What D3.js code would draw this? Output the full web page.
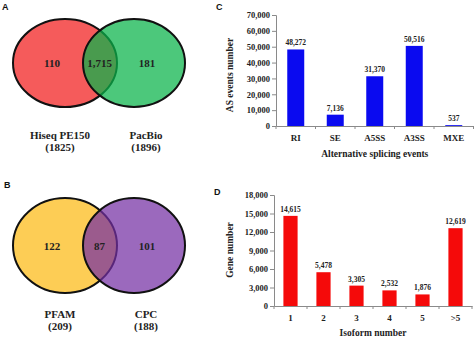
<!DOCTYPE html>
<html>
<head>
<meta charset="utf-8">
<script src="https://cdn.jsdelivr.net/npm/d3@7"></script>
<style>
  html, body { margin: 0; padding: 0; background: #fff; }
  svg { display: block; }
</style>
</head>
<body>
<svg id="fig" width="474" height="340"></svg>
<script>
// ---- Venn data ----
const vennA_sets = ["Hiseq PE150", "PacBio"];
const vennA_totals = [1825, 1896];
const vennA_counts = [110, 1715, 181]; // left only, shared, right only

const vennB_sets = ["PFAM", "CPC"];
const vennB_totals = [209, 188];
const vennB_counts = [122, 87, 101];

// ---- Bar data ----
const asEvents = ["RI", "SE", "A5SS", "A3SS", "MXE"];
const asCounts = [48272, 7136, 31370, 50516, 537];
const asTicks = [0, 10000, 20000, 30000, 40000, 50000, 60000, 70000];

const isoforms = ["1", "2", "3", "4", "5", ">5"];
const geneCounts = [14615, 5478, 3305, 2532, 1876, 12619];
const geneTicks = [0, 3000, 6000, 9000, 12000, 15000, 18000];

const svg = d3.select("#fig");
const serif = "'Liberation Serif', 'Times New Roman', serif";
const sans = "'Liberation Sans', Arial, sans-serif";
const fmt = d3.format(",");

// panel letters
[["A", 2, 10], ["B", 4, 188], ["C", 216, 10], ["D", 214, 195]].forEach(([t, x, y]) => {
  svg.append("text").attr("x", x).attr("y", y).text(t)
    .attr("font-family", sans).attr("font-weight", "bold").attr("font-size", 9).attr("fill", "#111");
});

// ---- Venn diagrams ----
// The right set is a translucent layer over the left one, so the shared
// area and the covered arc take on a blended tint.
function venn(cfg) {
  const g = svg.append("g");
  g.append("ellipse").attr("cx", cfg.cx[0]).attr("cy", cfg.cy).attr("rx", cfg.rx[0]).attr("ry", cfg.ry)
    .attr("fill", cfg.leftColor).attr("stroke", "#111").attr("stroke-width", 2);
  g.append("ellipse").attr("cx", cfg.cx[1]).attr("cy", cfg.cy).attr("rx", cfg.rx[1]).attr("ry", cfg.ry)
    .attr("fill", cfg.rightColor).attr("fill-opacity", cfg.rightOpacity)
    .attr("stroke", "#111").attr("stroke-width", 2);

  const xs = [cfg.cx[0] - 13, (cfg.cx[0] + cfg.cx[1]) / 2, cfg.cx[1] + 13];
  cfg.counts.forEach((c, i) => {
    g.append("text").attr("x", xs[i]).attr("y", cfg.cy + 4).attr("text-anchor", "middle")
      .attr("font-family", serif).attr("font-weight", "bold").attr("font-size", 11).attr("fill", "#222")
      .text(fmt(c));
  });
  cfg.sets.forEach((s, i) => {
    const x = [60, 146][i];
    g.append("text").attr("x", x).attr("y", cfg.labelY).attr("text-anchor", "middle")
      .attr("font-family", serif).attr("font-weight", "bold").attr("font-size", 11).attr("fill", "#222").text(s);
    g.append("text").attr("x", x).attr("y", cfg.labelY + 12).attr("text-anchor", "middle")
      .attr("font-family", serif).attr("font-weight", "bold").attr("font-size", 11).attr("fill", "#222")
      .text("(" + cfg.totals[i] + ")");
  });
}

venn({
  cx: [65, 134], rx: [52, 51], cy: 63, ry: 44,
  leftColor: "#f55b5b", rightColor: "rgb(10,180,74)", rightOpacity: 0.73,
  counts: vennA_counts, sets: vennA_sets, totals: vennA_totals, labelY: 139
});
venn({
  cx: [65, 134], rx: [52, 51], cy: 245.5, ry: 47.5,
  leftColor: "#fdcd55", rightColor: "rgb(117,47,164)", rightOpacity: 0.72,
  counts: vennB_counts, sets: vennB_sets, totals: vennB_totals, labelY: 318
});

// ---- Bar charts ----
function barChart(cfg) {
  const g = svg.append("g");
  const x = d3.scaleBand().domain(cfg.cats).range([cfg.x0, cfg.x1]).paddingInner(0.57).paddingOuter(0.285);
  const y = d3.scaleLinear().domain([0, cfg.ticks[cfg.ticks.length - 1]]).range([cfg.y0, cfg.y1]);
  const axisColor = "#8a8a8a";

  // y axis
  const ya = g.append("g").attr("transform", `translate(${cfg.x0},0)`)
    .call(d3.axisLeft(y).tickValues(cfg.ticks).tickFormat(fmt).tickSize(4).tickPadding(2));
  ya.select(".domain").attr("stroke", axisColor);
  ya.selectAll(".tick line").attr("stroke", axisColor);
  ya.selectAll(".tick text").attr("font-family", serif).attr("font-weight", "bold")
    .attr("font-size", 8.5).attr("fill", "#222");

  // bars
  g.selectAll("rect.bar").data(cfg.vals).join("rect").attr("class", "bar")
    .attr("x", (d, i) => x(cfg.cats[i]))
    .attr("width", x.bandwidth())
    .attr("y", d => y(d))
    .attr("height", d => y(0) - y(d))
    .attr("fill", cfg.color);

  // value labels
  g.selectAll("text.val").data(cfg.vals).join("text").attr("class", "val")
    .attr("x", (d, i) => x(cfg.cats[i]) + x.bandwidth() / 2)
    .attr("y", d => y(d) - 4)
    .attr("text-anchor", "middle")
    .attr("font-family", serif).attr("font-weight", "bold").attr("font-size", 7.5).attr("fill", "#222")
    .text(d => fmt(d));

  // x axis with ticks on category boundaries
  const xa = g.append("g").attr("transform", `translate(0,${cfg.y0})`)
    .call(d3.axisBottom(x).tickSize(0).tickPadding(9));
  xa.select(".domain").attr("stroke", axisColor);
  xa.selectAll(".tick text").attr("font-family", serif).attr("font-weight", "bold")
    .attr("font-size", 9).attr("fill", "#222");
  const step = x.step();
  const bounds = d3.range(cfg.cats.length + 1).map(i => cfg.x0 + i * step);
  g.selectAll("line.bnd").data(bounds).join("line").attr("class", "bnd")
    .attr("x1", d => d).attr("x2", d => d)
    .attr("y1", cfg.y0).attr("y2", cfg.y0 + 3)
    .attr("stroke", axisColor);

  // titles
  g.append("text").attr("x", (cfg.x0 + cfg.x1) / 2).attr("y", cfg.y0 + cfg.titleDy)
    .attr("text-anchor", "middle").attr("font-family", serif).attr("font-weight", "bold")
    .attr("font-size", 9.5).attr("fill", "#222").text(cfg.xTitle);
  g.append("text").attr("transform", `translate(233,${cfg.yTitleY}) rotate(-90)`)
    .attr("text-anchor", "middle").attr("font-family", serif).attr("font-weight", "bold")
    .attr("font-size", 9.5).attr("fill", "#222").text(cfg.yTitle);
}

barChart({
  cats: asEvents, vals: asCounts, ticks: asTicks,
  x0: 276, x1: 473.5, y0: 126, y1: 15, color: "#0a0af0",
  xTitle: "Alternative splicing events", yTitle: "AS events number",
  titleDy: 31, yTitleY: 75
});
barChart({
  cats: isoforms, vals: geneCounts, ticks: geneTicks,
  x0: 274, x1: 472, y0: 306, y1: 195, color: "#f50a0a",
  xTitle: "Isoform number", yTitle: "Gene number",
  titleDy: 30, yTitleY: 250
});
</script>
</body>
</html>
